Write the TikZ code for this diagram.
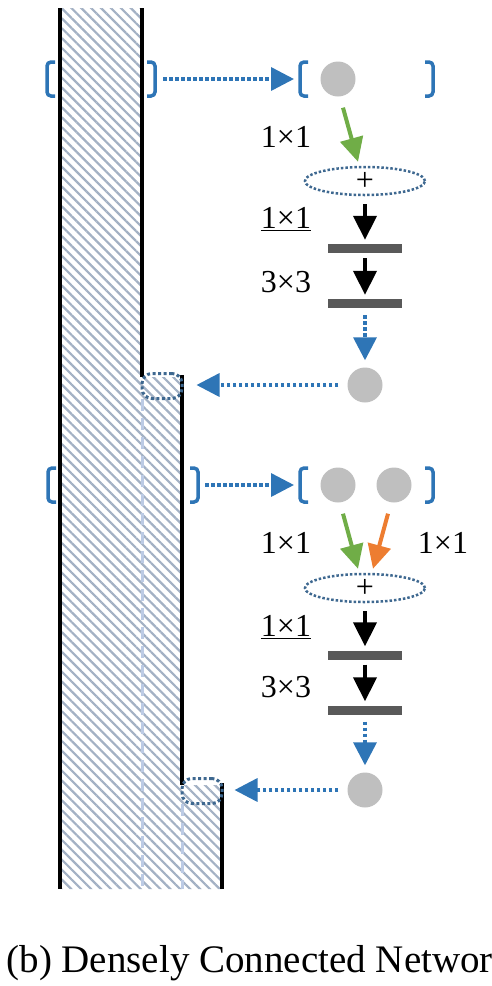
\documentclass[tikz,border=0pt]{standalone}
\usepackage{fontspec}
\setmainfont{Liberation Serif}
\usetikzlibrary{positioning,arrows.meta,patterns.meta,shapes.geometric}
\definecolor{dnBlue}{HTML}{2E75B6}
\definecolor{dnRing}{HTML}{3E6890}
\definecolor{dnHatch}{HTML}{A3B1C4}
\definecolor{dnDash}{HTML}{BCCBE5}
\definecolor{dnGreen}{HTML}{70AD47}
\definecolor{dnOrange}{HTML}{ED7D31}
\definecolor{dnBar}{HTML}{595959}
\definecolor{dnFeat}{HTML}{BFBFBF}
\newcommand{\brkleft}[1]{\draw[bracket] (#1) ++(8,-17) -- ++(-8,0) -- ++(0,34) -- ++(8,0);}
\newcommand{\brkright}[1]{\draw[bracket] (#1) ++(-8,-17) -- ++(8,0) -- ++(0,34) -- ++(-8,0);}
\tikzset{
  wall/.style={line width=4pt,draw=black},
  bracket/.style={draw=dnBlue,line width=3.5pt,rounded corners=4pt},
  link/.style={draw=dnBlue,line width=3.5pt,dash pattern=on 3.5pt off 2.5pt,
    -{Triangle[length=23pt,width=23pt]}},
  flow/.style={line width=4pt,-{Triangle[length=24pt,width=23pt]}},
  feat/.style={circle,fill=dnFeat,minimum size=35pt,inner sep=0pt},
  sumring/.style={ellipse,draw=dnRing,line width=2.5pt,dotted,
    minimum width=120pt,minimum height=28pt,inner sep=0pt},
  joint/.style={rectangle,rounded corners=10pt,draw=dnRing,line width=3pt,
    dash pattern=on 3pt off 2.5pt,minimum width=40pt,minimum height=25pt,inner sep=0pt},
  convbar/.style={fill=dnBar,minimum width=74pt,minimum height=9pt,inner sep=0pt},
  ghost/.style={draw=dnDash,line width=3pt,dash pattern=on 12pt off 7pt}
}

\begin{document}
\begin{tikzpicture}[x=1pt,y=-1pt,font=\fontsize{32}{38}\selectfont]
  \useasboundingbox (0,0) rectangle (492,986);

  % concatenated feature maps
  \fill[pattern={Lines[angle=-45,distance=7pt,line width=2.2pt]},pattern color=dnHatch]
    (60,8) -- (142,8) -- (142,377) -- (182,377) -- (182,785) -- (222,785)
    -- (222,889) -- (60,889) -- cycle;
  \draw[ghost] (142,399) -- (142,889);
  \draw[ghost] (182,804) -- (182,889);
  \draw[wall] (60,8) -- (60,889);
  \draw[wall] (142,8) -- (142,377);
  \draw[wall] (182,375) -- (182,785);
  \draw[wall] (222,783) -- (222,889);
  \node[joint] (j1) at (162,386) {};
  \node[joint] (j2) at (202,791) {};

  % first layer
  \brkleft{47,79} \brkright{155,79}
  \brkleft{300,79} \brkright{433,79}
  \coordinate (e1) at (163,79);
  \coordinate (o1) at (294,79);
  \node[feat] (a1) at (338,79) {};
  \node (k11) at (286,137) {1×1};
  \node[sumring] (sum1) at (365,181) {+};
  \node (k12) at (286,219) {\underline{1×1}};
  \node[convbar] (bar11) at (365,248.5) {};
  \node (k13) at (286,282) {3×3};
  \node[convbar] (bar12) at (365,303.5) {};
  \node[feat] (b1) at (365,385) {};

  \draw[link] (e1) -- (o1);
  \draw[flow,draw=dnGreen,fill=dnGreen] ([shift={(5,11)}]a1.south) -- ([xshift=-7pt,yshift=4pt]sum1.north);
  \draw[flow] ([yshift=-8pt]sum1.south) -- ([yshift=4pt]bar11.north);
  \draw[flow] ([yshift=-5pt]bar11.south) -- ([yshift=4pt]bar12.north);
  \draw[link] ([yshift=-7pt]bar12.south) -- ([yshift=7pt]b1.north);
  \draw[link] ([xshift=-9pt]b1.west) -- ([xshift=13pt,yshift=1pt]j1.east);

  % second layer
  \brkleft{48,485} \brkright{198,485}
  \brkleft{300,485} \brkright{433,485}
  \coordinate (e2) at (205,485);
  \coordinate (o2) at (294,485);
  \node[feat] (a2) at (338,485) {};
  \node[feat] (a3) at (394,485) {};
  \node (k21) at (286,543) {1×1};
  \node (k22) at (443,543) {1×1};
  \node[sumring] (sum2) at (365,588) {+};
  \node (k23) at (286,627) {\underline{1×1}};
  \node[convbar] (bar21) at (365,655) {};
  \node (k24) at (286,687) {3×3};
  \node[convbar] (bar22) at (365,710) {};
  \node[feat] (b2) at (365,790) {};

  \draw[link] (e2) -- (o2);
  \draw[flow,draw=dnGreen,fill=dnGreen] ([shift={(5,11)}]a2.south) -- ([xshift=-7pt,yshift=4pt]sum2.north);
  \draw[flow,draw=dnOrange,fill=dnOrange] ([shift={(-6,11)}]a3.south) -- ([xshift=8pt,yshift=4pt]sum2.north);
  \draw[flow] ([yshift=-8pt]sum2.south) -- ([yshift=4pt]bar21.north);
  \draw[flow] ([yshift=-5pt]bar21.south) -- ([yshift=4pt]bar22.north);
  \draw[link] ([yshift=-7pt]bar22.south) -- ([yshift=7pt]b2.north);
  \draw[link] ([xshift=-9pt]b2.west) -- ([xshift=11pt,yshift=1pt]j2.east);

  \node[anchor=base west,font=\fontsize{39}{46}\selectfont] (cap) at (3,972) {(b) Densely Connected Networ};
\end{tikzpicture}
\end{document}
